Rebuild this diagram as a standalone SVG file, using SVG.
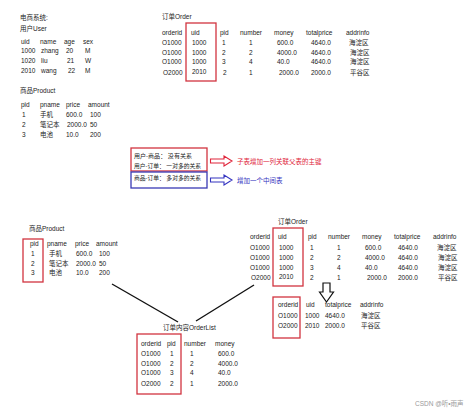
<svg xmlns="http://www.w3.org/2000/svg" width="474" height="412" viewBox="0 0 474 412">
<style>
text{font-family:"Liberation Sans","Noto Sans CJK SC",sans-serif;font-size:6.5px;fill:#222}
.rb{fill:none;stroke:#d1343f;stroke-width:1.3}
.bb{fill:none;stroke:#3a3ab4;stroke-width:1.3}
.ln{stroke:#111;stroke-width:1.4;fill:none}
.red{fill:#e0243a}
.blue{fill:#3434c0}
.rel{font-size:6px}
</style>
<rect width="474" height="412" fill="#fff"/>

<g id="user">
<text x="20" y="20">电商系统:</text>
<text x="20" y="31">用户User</text>
<text x="21" y="44">uid</text><text x="40" y="44">name</text><text x="64" y="44">age</text><text x="83" y="44">sex</text>
<text x="21" y="53">1000</text><text x="41" y="53">zhang</text><text x="66" y="53">20</text><text x="85" y="53">M</text>
<text x="21" y="63">1020</text><text x="41" y="63">liu</text><text x="67" y="63">21</text><text x="85" y="63">W</text>
<text x="21" y="73">2010</text><text x="41" y="73">wang</text><text x="68" y="73">22</text><text x="85" y="73">M</text>
</g>

<g id="product-top">
<text x="20" y="93">商品Product</text>
<text x="21" y="107">pid</text><text x="40" y="107">pname</text><text x="66" y="107">price</text><text x="88" y="107">amount</text>
<text x="22" y="117">1</text><text x="40" y="117">手机</text><text x="66" y="117">600.0</text><text x="90" y="117">100</text>
<text x="22" y="127">2</text><text x="40" y="127">笔记本</text><text x="67" y="127">2000.0</text><text x="90" y="127">50</text>
<text x="22" y="137">3</text><text x="40" y="137">电池</text><text x="66" y="137">10.0</text><text x="90" y="137">200</text>
</g>

<g id="order-top">
<text x="162" y="19">订单Order</text>
<rect class="rb" x="186" y="23" width="30" height="58"/>
<text x="162" y="35">orderid</text><text x="191" y="35">uid</text><text x="220" y="35">pid</text><text x="240" y="35">number</text><text x="274" y="35">money</text><text x="306" y="35">totalprice</text><text x="346" y="35">addrinfo</text>
<text x="162" y="45">O1000</text><text x="192" y="45">1000</text><text x="222" y="45">1</text><text x="249" y="45">1</text><text x="277" y="45">600.0</text><text x="311" y="45">4640.0</text><text x="349" y="45">海淀区</text>
<text x="162" y="55">O1000</text><text x="192" y="55">1000</text><text x="222" y="55">2</text><text x="249" y="55">2</text><text x="277" y="55">4000.0</text><text x="311" y="55">4640.0</text><text x="350" y="55">海淀区</text>
<text x="162" y="64">O1000</text><text x="192" y="64">1000</text><text x="222" y="64">3</text><text x="249" y="64">4</text><text x="277" y="64">40.0</text><text x="311" y="64">4640.0</text><text x="350" y="64">海淀区</text>
<text x="163" y="75">O2000</text><text x="192" y="74">2010</text><text x="223" y="75">2</text><text x="249" y="75">1</text><text x="279" y="75">2000.0</text><text x="311" y="75">2000.0</text><text x="350" y="75">平谷区</text>
</g>

<g id="relations">
<rect class="rb" x="131" y="148" width="76" height="23"/>
<text class="rel" x="134" y="158" textLength="58" lengthAdjust="spacingAndGlyphs">用户-商品：  没有关系</text>
<text class="rel" x="134" y="168" textLength="67" lengthAdjust="spacingAndGlyphs">用户-订单：  一对多的关系</text>
<rect class="bb" x="131" y="172" width="76" height="16"/>
<text class="rel" x="134" y="179.5" textLength="67" lengthAdjust="spacingAndGlyphs">商品-订单：  多对多的关系</text>
</g>

<g id="note-red">
<path d="M210.5,159 H224 V156 L232,161 L224,166 V163 H210.5 Z" fill="none" stroke="#e0243a" stroke-width="1.1"/>
<text class="red" x="237" y="163.5">子表增加一列关联父表的主键</text>
</g>
<g id="note-blue">
<path d="M210.5,178 H224 V175 L232,180 L224,185 V182 H210.5 Z" fill="none" stroke="#3434c0" stroke-width="1.1"/>
<text class="blue" x="237" y="182.5">增加一个中间表</text>
</g>

<g id="product-bottom">
<text x="29" y="231">商品Product</text>
<rect class="rb" x="23" y="239" width="20" height="43"/>
<text x="30" y="246">pid</text><text x="47" y="246">pname</text><text x="75" y="246">price</text><text x="96" y="246">amount</text>
<text x="31" y="256">1</text><text x="49" y="256">手机</text><text x="76" y="256">600.0</text><text x="99" y="256">100</text>
<text x="31" y="265.5">2</text><text x="49" y="265.5">笔记本</text><text x="76" y="265.5">2000.0</text><text x="99" y="265.5">50</text>
<text x="31" y="275">3</text><text x="49" y="275">电池</text><text x="76" y="275">10.0</text><text x="99" y="275">200</text>
</g>

<g id="order-bottom">
<text x="278" y="224">订单Order</text>
<rect class="rb" x="273" y="228" width="30" height="58"/>
<text x="250" y="239">orderid</text><text x="278" y="239">uid</text><text x="308" y="239">pid</text><text x="328" y="239">number</text><text x="362" y="239">money</text><text x="394" y="239">totalprice</text><text x="433" y="239">addrinfo</text>
<text x="250" y="250">O1000</text><text x="279" y="250">1000</text><text x="310" y="250">1</text><text x="337" y="250">1</text><text x="365" y="250">600.0</text><text x="398" y="250">4640.0</text><text x="437" y="250">海淀区</text>
<text x="250" y="259.5">O1000</text><text x="279" y="259.5">1000</text><text x="310" y="259.5">2</text><text x="337" y="259.5">2</text><text x="365" y="259.5">4000.0</text><text x="398" y="259.5">4640.0</text><text x="438" y="259.5">海淀区</text>
<text x="250" y="269.5">O1000</text><text x="279" y="269.5">1000</text><text x="310" y="269.5">3</text><text x="337" y="269.5">4</text><text x="365" y="269.5">40.0</text><text x="398" y="269.5">4640.0</text><text x="438" y="269.5">海淀区</text>
<text x="251" y="280">O2000</text><text x="279" y="279">2010</text><text x="310" y="280">2</text><text x="337" y="280">1</text><text x="367" y="280">2000.0</text><text x="398" y="280">2000.0</text><text x="438" y="280">平谷区</text>
</g>

<g id="order-summary">
<rect class="rb" x="273" y="297" width="27" height="41"/>
<text x="278" y="307">orderid</text><text x="306" y="307">uid</text><text x="325" y="307">totalprice</text><text x="360" y="307">addrinfo</text>
<text x="278" y="318">O1000</text><text x="305" y="318">1000</text><text x="325" y="318">4640.0</text><text x="361" y="318">海淀区</text>
<text x="278" y="328">O2000</text><text x="305" y="328">2010</text><text x="325" y="328">2000.0</text><text x="361" y="328">平谷区</text>
</g>

<g id="orderlist">
<text x="163" y="330">订单内容OrderList</text>
<rect class="rb" x="137" y="334" width="44" height="60"/>
<text x="141" y="346">orderid</text><text x="167" y="346">pid</text><text x="184" y="346">number</text><text x="215" y="346">money</text>
<text x="141" y="356">O1000</text><text x="170" y="356">1</text><text x="190" y="356">1</text><text x="218" y="356">600.0</text>
<text x="141" y="365.5">O1000</text><text x="170" y="365.5">2</text><text x="190" y="365.5">2</text><text x="218" y="365.5">4000.0</text>
<text x="141" y="375">O1000</text><text x="170" y="375">3</text><text x="190" y="375">4</text><text x="218" y="375">40.0</text>
<text x="141" y="386">O2000</text><text x="170" y="386">2</text><text x="190" y="386">1</text><text x="218" y="386">2000.0</text>
</g>

<g id="connectors">
<line class="ln" x1="112" y1="284" x2="178" y2="322"/>
<line class="ln" x1="254" y1="285" x2="196" y2="321"/>
<path d="M323,283 H330 V292 H333.5 L326.5,302 L319.5,292 H323 Z" fill="#fff" stroke="#111" stroke-width="1.2"/>
</g>

<text x="415" y="406" font-size="6" style="fill:#9a9a9a">CSDN @听•雨声</text>
</svg>
